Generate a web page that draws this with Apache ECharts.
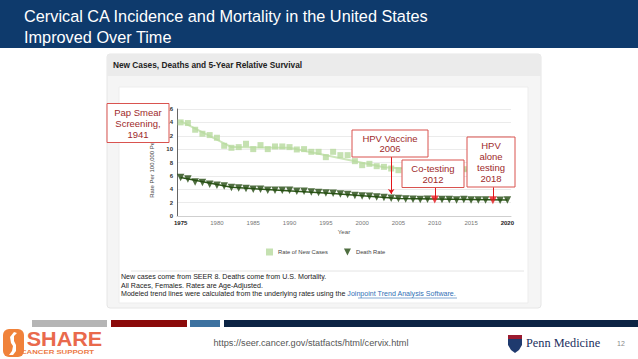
<!DOCTYPE html>
<html><head><meta charset="utf-8">
<script src="https://cdn.jsdelivr.net/npm/echarts@6/dist/echarts.min.js"></script>
<style>html,body{margin:0;padding:0;background:#fff}#c{width:638px;height:359px}</style>
</head><body><div id="c"></div>
<script>
// ---- data ----
const years = [1975,1976,1977,1978,1979,1980,1981,1982,1983,1984,1985,1986,1987,1988,1989,1990,
  1991,1992,1993,1994,1995,1996,1997,1998,1999,2000,2001,2002,2003,2004,2005,2006,2007,2008,2009,
  2010,2011,2012,2013,2014,2015,2016,2017,2018,2019,2020];
const newCases = [14.0,13.9,12.9,12.3,12.1,11.7,10.5,10.2,10.3,10.8,10.0,10.6,10.0,10.4,10.4,10.3,
  9.95,10.0,9.6,9.6,8.8,9.6,9.1,9.1,8.2,7.6,7.8,7.45,7.35,7.1,6.85,6.9,6.7,6.6,6.6,
  6.6,6.7,6.7,6.8,7.0,7.0,7.1,7.2,7.3,7.4,6.9];
const deathRate = [5.75,5.55,5.1,5.0,4.75,4.6,4.5,4.25,4.2,4.1,4.0,4.0,3.85,3.85,3.85,3.85,
  3.7,3.7,3.6,3.5,3.45,3.4,3.3,3.2,3.05,3.0,2.95,2.85,2.75,2.65,2.6,2.55,2.5,2.45,2.5,
  2.45,2.45,2.45,2.4,2.45,2.4,2.4,2.4,2.35,2.35,2.4];
const newCasesTrendYears = [1975,1982,1990,2003,2012,2020];
const newCasesTrendVals  = [14.2,10.3,10.2,7.3,6.7,7.1];
const deathTrendYears = [1975,1982,1996,2005,2020];
const deathTrendVals  = [5.75,4.3,3.35,2.6,2.38];
const highlightYears = [2010,2018];
const xTicks = [1975,1980,1985,1990,1995,2000,2005,2010,2015,2020];

// ---- build ----
const pair = (xs, ys) => xs.map((x, i) => [x, ys[i]]);
const deathData = years.map((y, i) => highlightYears.includes(y)
  ? {value: [y, deathRate[i]], itemStyle: {color: '#e3161b'}, symbolSize: 8}
  : [y, deathRate[i]]);

const RED = '#d9534f', RED_TXT = '#9e2a2b';
function box(x, y, w, h, txt, lh) {
  return [
    {type:'rect', z:100, shape:{x:x, y:y, width:w, height:h}, style:{fill:'#fff', stroke:RED, lineWidth:1}},
    {type:'text', z:101, x:x + w/2, y:y + h/2, style:{text:txt, fill:RED_TXT, font:'9.5px "Liberation Sans", Arial, sans-serif', align:'center', verticalAlign:'middle', lineHeight:lh}}
  ];
}

const FONT = '"Liberation Sans", Arial, sans-serif';
const graphics = [
  // title bar
  {type:'rect', z:-5, shape:{x:0, y:0, width:638, height:48}, style:{fill:'#0e3a6c'}},
  {type:'text', z:1, x:24, y:16, style:{text:'Cervical CA Incidence and Mortality in the United States', fill:'#fff', font:'16.3px ' + FONT, verticalAlign:'middle'}},
  {type:'text', z:1, x:24, y:36.5, style:{text:'Improved Over Time', fill:'#fff', font:'16.3px ' + FONT, verticalAlign:'middle'}},
  // card
  {type:'rect', z:-5, shape:{x:107, y:54, width:434, height:254, r:3}, style:{fill:'#f5f5f5', stroke:'#e6e6e6'}},
  {type:'rect', z:-5, shape:{x:107, y:54, width:434, height:22, r:[3,3,0,0]}, style:{fill:'#ebebeb'}},
  {type:'text', z:-4, x:113, y:65, style:{text:'New Cases, Deaths and 5-Year Relative Survival', fill:'#222', font:'bold 8.3px ' + FONT, verticalAlign:'middle'}},
  {type:'rect', z:-5, shape:{x:119, y:87, width:409, height:216}, style:{fill:'#fff', stroke:'#ededed'}},
  {type:'line', z:-4, shape:{x1:131, y1:271, x2:524, y2:271}, style:{stroke:'#e4e4e4', lineWidth:1}},
  {type:'text', z:-4, x:121, y:277, style:{text:'New cases come from SEER 8. Deaths come from U.S. Mortality.', fill:'#222', font:'7.1px ' + FONT, verticalAlign:'middle'}},
  {type:'text', z:-4, x:121, y:285.5, style:{text:'All Races, Females. Rates are Age-Adjusted.', fill:'#222', font:'7.1px ' + FONT, verticalAlign:'middle'}},
  {type:'text', z:-4, x:121, y:294, style:{text:'Modeled trend lines were calculated from the underlying rates using the {l|Joinpoint Trend Analysis Software.}', fill:'#222', font:'7.1px ' + FONT, verticalAlign:'middle', rich:{l:{fill:'#2f6fb5', fontSize:7.1}}}},
  {type:'line', z:-4, shape:{x1:358, y1:298, x2:457, y2:298}, style:{stroke:'#2f6fb5', lineWidth:0.6}},
  // footer bars
  {type:'rect', shape:{x:32, y:320, width:75, height:7}, style:{fill:'#b5b5b5'}},
  {type:'rect', shape:{x:111, y:320, width:76, height:7}, style:{fill:'#8b0a0a'}},
  {type:'rect', shape:{x:190, y:320, width:30, height:7}, style:{fill:'#3d72a0'}},
  {type:'rect', shape:{x:224, y:320, width:414, height:7}, style:{fill:'#0c2444'}},
  // SHARE logo
  {type:'rect', shape:{x:3, y:329, width:21, height:28, r:6}, style:{fill:'#f0823a'}},
  {type:'polygon', shape:{points:[[14,332],[10,337],[11,343],[13,346],[12,351],[9,355],[13,355],[16,351],[16,345],[14,341],[14,336],[17,333]]}, style:{fill:'#fff'}},
  {type:'text', x:29, y:339, scaleX:1.08, originX:29, style:{text:'SHARE', fill:'#e9694c', font:'bold 20px ' + FONT, verticalAlign:'middle'}},
  {type:'text', x:30, y:352, scaleX:1.3, originX:30, style:{text:'CANCER SUPPORT', fill:'#ec7a47', font:'bold 6px ' + FONT, verticalAlign:'middle'}},
  // URL
  {type:'text', x:311, y:343, style:{text:'https://seer.cancer.gov/statfacts/html/cervix.html', fill:'#555', font:'9.2px ' + FONT, align:'center', verticalAlign:'middle'}},
  // Penn Medicine
  {type:'polygon', shape:{points:[[508,335],[522,335],[522,345],[519,350],[515,353],[511,350],[508,345]]}, style:{fill:'#1f3a6e'}},
  {type:'rect', shape:{x:508, y:335, width:14, height:4}, style:{fill:'#9b1b30'}},
  {type:'text', x:526, y:343, style:{text:'Penn Medicine', fill:'#1c2f5e', font:'12.3px "Liberation Serif", "DejaVu Serif", serif', verticalAlign:'middle'}},
  {type:'text', x:621, y:343, style:{text:'12', fill:'#888', font:'7px ' + FONT, align:'center', verticalAlign:'middle'}}
].concat(
  box(107, 103.5, 62, 39, 'Pap Smear\nScreening,\n1941', 11),
  box(352, 130, 76, 27, 'HPV Vaccine\n2006', 10.5),
  box(402, 160, 62, 27.5, 'Co-testing\n2012', 10.5),
  box(467, 137, 48, 50, 'HPV\nalone\ntesting\n2018', 11)
);

const option = {
  animation: false,
  textStyle: {fontFamily: FONT},
  grid: {left: 177, top: 109, width: 334, height: 107, containLabel: false},
  legend: {
    data: [{name:'Rate of New Cases', icon:'rect'}, {name:'Death Rate', icon:'path://M0,0L10,0L5,10Z'}],
    left: 266, top: 248.5, padding: 0, itemWidth: 7, itemHeight: 7, itemGap: 16,
    textStyle: {fontSize: 5.8, color: '#444'}
  },
  xAxis: {
    type: 'value', min: 1974.5, max: 2020.5,
    name: 'Year', nameLocation: 'middle', nameGap: 12,
    nameTextStyle: {fontSize: 6.2, color: '#555'},
    axisLine: {show: true, lineStyle: {color: '#cfcfcf'}},
    axisTick: {show: false}, splitLine: {show: false},
    axisLabel: {customValues: xTicks, fontSize: 6, color: '#777', margin: 4,
      formatter: v => (v === xTicks[0] || v === xTicks[xTicks.length-1]) ? '{b|' + v + '}' : String(v),
      rich: {b: {fontWeight: 'bold', color: '#222', fontSize: 6}}}
  },
  yAxis: {
    type: 'value', min: 0, max: 16, interval: 2,
    name: 'Rate Per 100,000 Persons', nameLocation: 'middle', nameGap: 12,
    nameTextStyle: {fontSize: 6, color: '#444'},
    axisLine: {show: true, lineStyle: {color: '#666'}},
    axisTick: {show: false},
    axisLabel: {fontSize: 6, fontWeight: 'bold', color: '#333', margin: 4},
    splitLine: {lineStyle: {color: '#ebebeb'}}
  },
  series: [
    {name: 'New Cases Trend', type: 'line', data: pair(newCasesTrendYears, newCasesTrendVals),
      symbol: 'none', lineStyle: {color: '#cde6ba', width: 2}, z: 1, silent: true},
    {name: 'Rate of New Cases', type: 'scatter', data: pair(years, newCases),
      symbol: 'rect', symbolSize: 6, itemStyle: {color: '#b6da9d'}, z: 2},
    {name: 'Death Trend', type: 'line', data: pair(deathTrendYears, deathTrendVals),
      symbol: 'none', lineStyle: {color: '#2f5a1b', width: 1.5}, z: 1, silent: true},
    {name: 'Death Rate', type: 'scatter', data: deathData,
      symbol: 'triangle', symbolRotate: 180, symbolSize: 7.5, itemStyle: {color: '#234a10'}, z: 3,
      markLine: {silent: true, label: {show: false}, symbol: ['none', 'none'],
        lineStyle: {color: '#e3161b', width: 1, type: 'solid'},
        data: [
          [{coord: [2004, 8.9]}, {coord: [2004, 3.3], symbol: 'arrow', symbolSize: 5}],
          [{coord: [2010, 4.3]}, {coord: [2010, 2.6]}],
          [{coord: [2018, 4.3]}, {coord: [2018, 2.55]}]
        ]}}
  ],
  graphic: {elements: graphics}
};
const chart = echarts.init(document.getElementById('c'), null, {renderer: 'svg', width: 638, height: 359});
chart.setOption(option);
</script></body></html>
